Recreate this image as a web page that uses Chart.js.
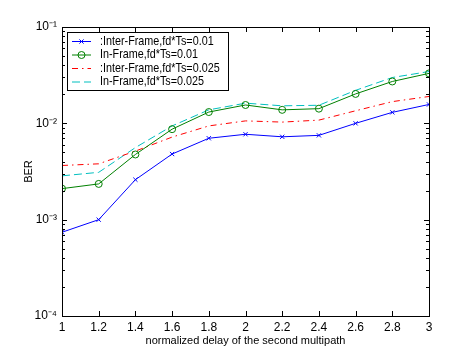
<!DOCTYPE html>
<html><head><meta charset="utf-8">
<script src="https://cdn.jsdelivr.net/npm/chart.js@4"></script>
<style>html,body{margin:0;padding:0;background:#fff}#wrap{width:474px;height:355px}</style>
</head><body><div id="wrap"><canvas id="c" width="474" height="355"></canvas></div>
<script>
// ---- data ----
const xValues = [1, 1.2, 1.4, 1.6, 1.8, 2, 2.2, 2.4, 2.6, 2.8, 3];
const interFrame001  = [7.4e-4, 1.0e-3, 2.6e-3, 4.8e-3, 7.0e-3, 7.7e-3, 7.25e-3, 7.5e-3, 1.0e-2, 1.3e-2, 1.57e-2];
const inFrame001     = [2.1e-3, 2.35e-3, 4.75e-3, 8.7e-3, 1.31e-2, 1.55e-2, 1.38e-2, 1.42e-2, 2.02e-2, 2.72e-2, 3.3e-2];
const interFrame0025 = [3.65e-3, 3.8e-3, 5.15e-3, 7.2e-3, 9.4e-3, 1.06e-2, 1.03e-2, 1.08e-2, 1.35e-2, 1.68e-2, 1.9e-2];
const inFrame0025    = [2.85e-3, 3.1e-3, 5.6e-3, 9.4e-3, 1.38e-2, 1.62e-2, 1.52e-2, 1.54e-2, 2.2e-2, 2.99e-2, 3.45e-2];
const seriesLabels = [':Inter-Frame,fd*Ts=0.01', 'In-Frame,fd*Ts=0.01', ':Inter-Frame,fd*Ts=0.025', 'In-Frame,fd*Ts=0.025'];
const xTicks = [1, 1.2, 1.4, 1.6, 1.8, 2, 2.2, 2.4, 2.6, 2.8, 3];
const xTickLabels = ['1', '1.2', '1.4', '1.6', '1.8', '2', '2.2', '2.4', '2.6', '2.8', '3'];
const yMajorTicks = [1e-4, 1e-3, 1e-2, 1e-1];
const yTickLabels = ['10\u207B\u2074', '10\u207B\u00B3', '10\u207B\u00B2', '10\u207B\u00B9'];
const xTitle = 'normalized delay of the second multipath';
const yTitle = 'BER';

const FONT = "'Liberation Sans',Arial,sans-serif";

// all tick positions of the log axis (majors plus 2..9 minors)
const yAllTicks = [];
yMajorTicks.forEach((m, i) => {
  yAllTicks.push(m);
  if (i < yMajorTicks.length - 1) for (let k = 2; k <= 9; k++) yAllTicks.push(m * k);
});
const isMajor = v => Math.abs(Math.log10(v) - Math.round(Math.log10(v))) < 1e-9;

const toPts = arr => arr.map((y, i) => ({x: xValues[i], y}));

const datasets = [
  {label: seriesLabels[0], data: toPts(interFrame001), borderColor: '#0000ff', backgroundColor: 'transparent',
   borderWidth: 1, pointStyle: 'crossRot', pointRadius: 3, pointBorderColor: '#0000ff', pointBorderWidth: 1},
  {label: seriesLabels[1], data: toPts(inFrame001), borderColor: '#008000', backgroundColor: 'transparent',
   borderWidth: 1, pointStyle: 'circle', pointRadius: 3.5, pointBorderColor: '#008000', pointBackgroundColor: 'transparent', pointBorderWidth: 1},
  {label: seriesLabels[2], data: toPts(interFrame0025), borderColor: '#ff0000', backgroundColor: 'transparent',
   borderWidth: 1, borderDash: [6, 4, 1.5, 4], pointRadius: 0},
  {label: seriesLabels[3], data: toPts(inFrame0025), borderColor: '#00bfbf', backgroundColor: 'transparent',
   borderWidth: 1, borderDash: [8, 4], pointRadius: 0}
];

const framePlugin = {
  id: 'frame',
  afterDraw(chart) {
    const {ctx, chartArea: a, scales: {x, y}} = chart;
    ctx.save();
    ctx.strokeStyle = '#000';
    ctx.lineWidth = 1;
    ctx.strokeRect(Math.round(a.left) + 0.5, Math.round(a.top) + 0.5, Math.round(a.right - a.left), Math.round(a.bottom - a.top));
    ctx.beginPath();
    x.ticks.forEach(t => {
      const px = Math.round(x.getPixelForValue(t.value)) + 0.5;
      ctx.moveTo(px, a.bottom); ctx.lineTo(px, a.bottom - 5);
      ctx.moveTo(px, a.top); ctx.lineTo(px, a.top + 5);
    });
    y.ticks.forEach(t => {
      const py = Math.round(y.getPixelForValue(t.value)) + 0.5;
      const len = isMajor(t.value) ? 5 : 3;
      ctx.moveTo(a.left, py); ctx.lineTo(a.left + len, py);
      ctx.moveTo(a.right, py); ctx.lineTo(a.right - len, py);
    });
    ctx.stroke();

    // legend box
    const bx = 67.5, by = 32.5, bw = 161, bh = 58;
    ctx.fillStyle = '#fff';
    ctx.fillRect(bx, by, bw, bh);
    ctx.strokeRect(bx, by, bw, bh);
    const rowY = [41, 54.5, 68, 81.5];
    chart.data.datasets.forEach((ds, i) => {
      const yy = rowY[i] + 0.5;
      ctx.strokeStyle = ds.borderColor;
      ctx.lineWidth = 1;
      ctx.setLineDash(ds.borderDash || []);
      ctx.beginPath(); ctx.moveTo(72, yy); ctx.lineTo(91, yy); ctx.stroke();
      ctx.setLineDash([]);
      if (ds.pointRadius > 0) {
        ctx.fillStyle = 'rgba(0,0,0,0)';
        ctx.strokeStyle = ds.pointBorderColor;
        Chart.helpers.drawPoint(ctx, {pointStyle: ds.pointStyle, radius: ds.pointRadius, borderWidth: 1, rotation: 0}, 81.5, yy);
      }
      ctx.save();
      ctx.translate(100, rowY[i]);
      ctx.scale(0.83, 1);
      ctx.font = '13px ' + FONT;
      ctx.textBaseline = 'middle';
      ctx.textAlign = 'left';
      ctx.fillStyle = '#000';
      ctx.fillText(ds.label, 0, 0);
      ctx.restore();
    });
    ctx.restore();
  }
};

new Chart(document.getElementById('c'), {
  type: 'line',
  data: {datasets},
  options: {
    responsive: false,
    animation: false,
    devicePixelRatio: 1,
    layout: {padding: {left: 0, top: 27, right: 45, bottom: 0}},
    plugins: {legend: {display: false}, tooltip: {enabled: false}, title: {display: false}},
    scales: {
      x: {
        type: 'linear', min: 1, max: 3,
        afterBuildTicks: s => { s.ticks = xTicks.map(v => ({value: v})); },
        afterFit: s => { s.height = 39; },
        grid: {display: false, drawTicks: false},
        border: {display: false},
        ticks: {autoSkip: false, maxRotation: 0, padding: 4, color: '#000',
                font: {family: FONT, size: 12},
                callback: (v, i) => xTickLabels[i]},
        title: {display: true, text: xTitle, color: '#000', font: {family: FONT, size: 11},
                padding: {top: 0, bottom: 7}}
      },
      y: {
        type: 'logarithmic', min: 1e-4, max: 1e-1,
        afterBuildTicks: s => { s.ticks = yAllTicks.map(v => ({value: v})); },
        afterFit: s => { s.width = 62; },
        grid: {display: false, drawTicks: false},
        border: {display: false},
        ticks: {autoSkip: false, padding: 5, color: '#000', font: {family: FONT, size: 12},
                callback: v => { const i = yMajorTicks.findIndex(m => Math.abs(Math.log10(m) - Math.log10(v)) < 1e-9); return i >= 0 ? yTickLabels[i] : ''; }},
        title: {display: true, text: yTitle, color: '#000', font: {family: FONT, size: 11},
                padding: {top: 22, bottom: 0}}
      }
    }
  },
  plugins: [framePlugin]
});
</script>
</body></html>
